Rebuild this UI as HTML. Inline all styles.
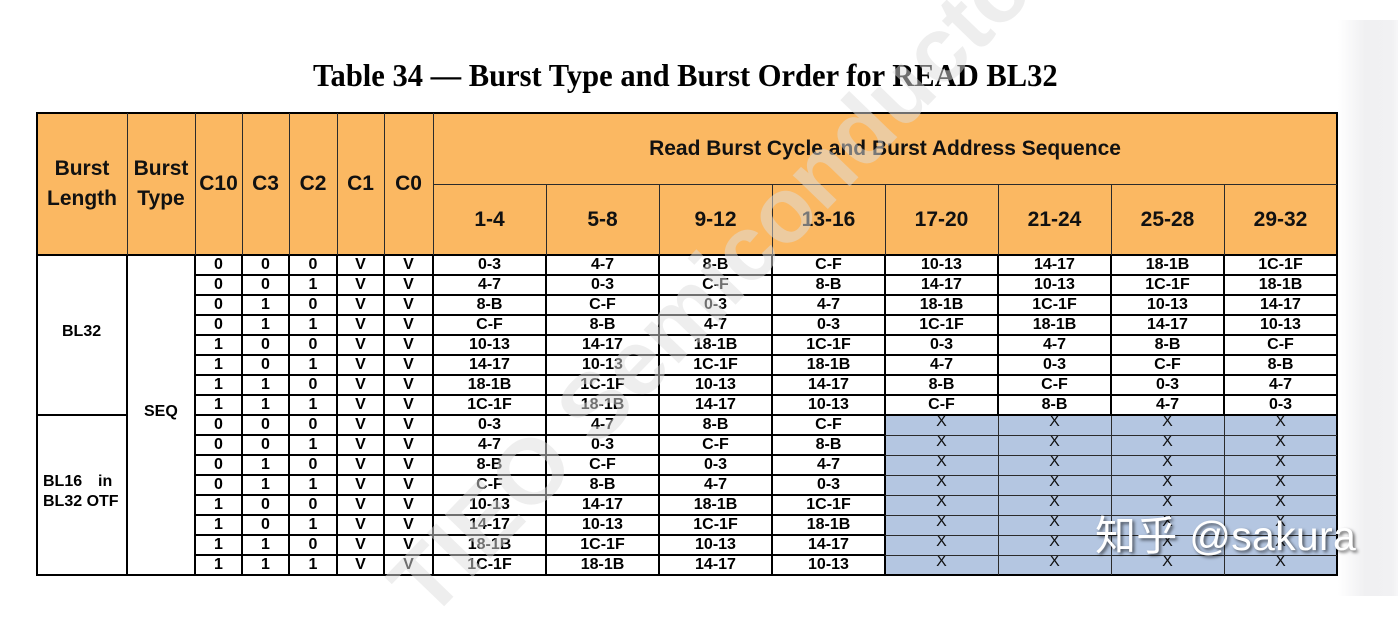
<!DOCTYPE html>
<html>
<head>
<meta charset="utf-8">
<style>
html,body{margin:0;padding:0;}
body{width:1398px;height:596px;overflow:hidden;position:relative;background:#fff;font-family:"Liberation Sans",Arial,sans-serif;}
.bg{position:absolute;}
.l{position:absolute;background:#000;}
.lt{position:absolute;background:#2b2b2b;}
.t{position:absolute;display:flex;align-items:center;justify-content:center;text-align:center;font-weight:bold;color:#111;}
.h{font-size:21px;}
.row{position:absolute;left:195px;height:20px;display:grid;grid-template-columns:47px 47px 48px 47px 49px repeat(8,113px);font-size:16px;font-weight:bold;line-height:20px;text-align:center;color:#000;}
.x{font-weight:normal;position:relative;top:-3px;color:#111;}
.lab{position:absolute;font-size:16px;font-weight:bold;line-height:20px;color:#000;white-space:pre;}
</style>
</head>
<body>
<!-- right gray strip -->
<div class="bg" style="left:1338px;top:20px;width:60px;height:576px;background:linear-gradient(to right,rgba(241,241,243,0) 0,#f0f0f2 45%,#f1f1f3 90%,#f7f7f8 100%);"></div>

<!-- title -->
<div style="position:absolute;left:313px;top:59px;font-family:'Liberation Serif','Times New Roman',serif;font-weight:bold;font-size:32px;line-height:32px;color:#000;white-space:nowrap;transform:scaleX(0.954);transform-origin:0 50%;">Table 34 — Burst Type and Burst Order for READ BL32</div>

<!-- backgrounds -->
<div class="bg" style="left:37px;top:113px;width:1300px;height:142px;background:#fbb862;"></div>
<div class="bg" style="left:885px;top:415px;width:452px;height:160px;background:#b4c6e1;"></div>

<!-- header text -->
<div class="t h" style="left:37px;top:113px;width:90px;height:142px;line-height:30px;">Burst<br>Length</div>
<div class="t h" style="left:127px;top:113px;width:68px;height:142px;line-height:30px;">Burst<br>Type</div>
<div class="t h" style="left:195px;top:113px;width:47px;height:142px;">C10</div>
<div class="t h" style="left:242px;top:113px;width:47px;height:142px;">C3</div>
<div class="t h" style="left:289px;top:113px;width:48px;height:142px;">C2</div>
<div class="t h" style="left:337px;top:113px;width:47px;height:142px;">C1</div>
<div class="t h" style="left:384px;top:113px;width:49px;height:142px;">C0</div>
<div class="t h" style="left:433px;top:113px;width:904px;height:71px;">Read Burst Cycle and Burst Address Sequence</div>
<div class="t h" style="left:433px;top:184px;width:113px;height:71px;">1-4</div>
<div class="t h" style="left:546px;top:184px;width:113px;height:71px;">5-8</div>
<div class="t h" style="left:659px;top:184px;width:113px;height:71px;">9-12</div>
<div class="t h" style="left:772px;top:184px;width:113px;height:71px;">13-16</div>
<div class="t h" style="left:885px;top:184px;width:113px;height:71px;">17-20</div>
<div class="t h" style="left:998px;top:184px;width:113px;height:71px;">21-24</div>
<div class="t h" style="left:1111px;top:184px;width:113px;height:71px;">25-28</div>
<div class="t h" style="left:1224px;top:184px;width:113px;height:71px;">29-32</div>

<!-- left labels -->
<div class="lab" style="left:62px;top:322px;">BL32</div>
<div class="lab" style="left:144px;top:402px;">SEQ</div>
<div class="lab" style="left:43px;top:472px;">BL16</div>
<div class="lab" style="left:98px;top:472px;">in</div>
<div class="lab" style="left:43px;top:492px;">BL32 OTF</div>

<!-- data rows -->
<div class="row" style="top:255px;"><span>0</span><span>0</span><span>0</span><span>V</span><span>V</span><span>0-3</span><span>4-7</span><span>8-B</span><span>C-F</span><span>10-13</span><span>14-17</span><span>18-1B</span><span>1C-1F</span></div>
<div class="row" style="top:275px;"><span>0</span><span>0</span><span>1</span><span>V</span><span>V</span><span>4-7</span><span>0-3</span><span>C-F</span><span>8-B</span><span>14-17</span><span>10-13</span><span>1C-1F</span><span>18-1B</span></div>
<div class="row" style="top:295px;"><span>0</span><span>1</span><span>0</span><span>V</span><span>V</span><span>8-B</span><span>C-F</span><span>0-3</span><span>4-7</span><span>18-1B</span><span>1C-1F</span><span>10-13</span><span>14-17</span></div>
<div class="row" style="top:315px;"><span>0</span><span>1</span><span>1</span><span>V</span><span>V</span><span>C-F</span><span>8-B</span><span>4-7</span><span>0-3</span><span>1C-1F</span><span>18-1B</span><span>14-17</span><span>10-13</span></div>
<div class="row" style="top:335px;"><span>1</span><span>0</span><span>0</span><span>V</span><span>V</span><span>10-13</span><span>14-17</span><span>18-1B</span><span>1C-1F</span><span>0-3</span><span>4-7</span><span>8-B</span><span>C-F</span></div>
<div class="row" style="top:355px;"><span>1</span><span>0</span><span>1</span><span>V</span><span>V</span><span>14-17</span><span>10-13</span><span>1C-1F</span><span>18-1B</span><span>4-7</span><span>0-3</span><span>C-F</span><span>8-B</span></div>
<div class="row" style="top:375px;"><span>1</span><span>1</span><span>0</span><span>V</span><span>V</span><span>18-1B</span><span>1C-1F</span><span>10-13</span><span>14-17</span><span>8-B</span><span>C-F</span><span>0-3</span><span>4-7</span></div>
<div class="row" style="top:395px;"><span>1</span><span>1</span><span>1</span><span>V</span><span>V</span><span>1C-1F</span><span>18-1B</span><span>14-17</span><span>10-13</span><span>C-F</span><span>8-B</span><span>4-7</span><span>0-3</span></div>
<div class="row" style="top:415px;"><span>0</span><span>0</span><span>0</span><span>V</span><span>V</span><span>0-3</span><span>4-7</span><span>8-B</span><span>C-F</span><span class="x">X</span><span class="x">X</span><span class="x">X</span><span class="x">X</span></div>
<div class="row" style="top:435px;"><span>0</span><span>0</span><span>1</span><span>V</span><span>V</span><span>4-7</span><span>0-3</span><span>C-F</span><span>8-B</span><span class="x">X</span><span class="x">X</span><span class="x">X</span><span class="x">X</span></div>
<div class="row" style="top:455px;"><span>0</span><span>1</span><span>0</span><span>V</span><span>V</span><span>8-B</span><span>C-F</span><span>0-3</span><span>4-7</span><span class="x">X</span><span class="x">X</span><span class="x">X</span><span class="x">X</span></div>
<div class="row" style="top:475px;"><span>0</span><span>1</span><span>1</span><span>V</span><span>V</span><span>C-F</span><span>8-B</span><span>4-7</span><span>0-3</span><span class="x">X</span><span class="x">X</span><span class="x">X</span><span class="x">X</span></div>
<div class="row" style="top:495px;"><span>1</span><span>0</span><span>0</span><span>V</span><span>V</span><span>10-13</span><span>14-17</span><span>18-1B</span><span>1C-1F</span><span class="x">X</span><span class="x">X</span><span class="x">X</span><span class="x">X</span></div>
<div class="row" style="top:515px;"><span>1</span><span>0</span><span>1</span><span>V</span><span>V</span><span>14-17</span><span>10-13</span><span>1C-1F</span><span>18-1B</span><span class="x">X</span><span class="x">X</span><span class="x">X</span><span class="x">X</span></div>
<div class="row" style="top:535px;"><span>1</span><span>1</span><span>0</span><span>V</span><span>V</span><span>18-1B</span><span>1C-1F</span><span>10-13</span><span>14-17</span><span class="x">X</span><span class="x">X</span><span class="x">X</span><span class="x">X</span></div>
<div class="row" style="top:555px;"><span>1</span><span>1</span><span>1</span><span>V</span><span>V</span><span>1C-1F</span><span>18-1B</span><span>14-17</span><span>10-13</span><span class="x">X</span><span class="x">X</span><span class="x">X</span><span class="x">X</span></div>

<!-- outer border -->
<div class="l" style="left:36px;top:112px;width:1302px;height:2px;"></div>
<div class="l" style="left:36px;top:254px;width:1302px;height:2px;"></div>
<div class="l" style="left:36px;top:574px;width:1302px;height:2px;"></div>
<div class="l" style="left:36px;top:112px;width:2px;height:464px;"></div>
<div class="l" style="left:1336px;top:112px;width:2px;height:464px;"></div>

<!-- header inner lines -->
<div class="lt" style="left:433px;top:184px;width:904px;height:1px;"></div>
<div class="lt" style="left:127px;top:113px;width:1px;height:142px;"></div>
<div class="lt" style="left:195px;top:113px;width:1px;height:142px;"></div>
<div class="lt" style="left:242px;top:113px;width:1px;height:142px;"></div>
<div class="lt" style="left:289px;top:113px;width:1px;height:142px;"></div>
<div class="lt" style="left:337px;top:113px;width:1px;height:142px;"></div>
<div class="lt" style="left:384px;top:113px;width:1px;height:142px;"></div>
<div class="lt" style="left:433px;top:113px;width:1px;height:142px;"></div>
<div class="lt" style="left:546px;top:184px;width:1px;height:71px;"></div>
<div class="lt" style="left:659px;top:184px;width:1px;height:71px;"></div>
<div class="lt" style="left:772px;top:184px;width:1px;height:71px;"></div>
<div class="lt" style="left:885px;top:184px;width:1px;height:71px;"></div>
<div class="lt" style="left:998px;top:184px;width:1px;height:71px;"></div>
<div class="lt" style="left:1111px;top:184px;width:1px;height:71px;"></div>
<div class="lt" style="left:1224px;top:184px;width:1px;height:71px;"></div>

<!-- data vertical lines -->
<div class="l" style="left:126px;top:255px;width:2px;height:320px;"></div>
<div class="l" style="left:194px;top:255px;width:2px;height:320px;"></div>
<div class="l" style="left:241px;top:255px;width:2px;height:320px;"></div>
<div class="l" style="left:288px;top:255px;width:2px;height:320px;"></div>
<div class="l" style="left:336px;top:255px;width:2px;height:320px;"></div>
<div class="l" style="left:383px;top:255px;width:2px;height:320px;"></div>
<div class="l" style="left:432px;top:255px;width:2px;height:320px;"></div>
<div class="l" style="left:545px;top:255px;width:2px;height:320px;"></div>
<div class="l" style="left:658px;top:255px;width:2px;height:320px;"></div>
<div class="l" style="left:771px;top:255px;width:2px;height:320px;"></div>
<div class="l" style="left:884px;top:255px;width:2px;height:320px;"></div>
<div class="l" style="left:997px;top:255px;width:2px;height:160px;"></div>
<div class="l" style="left:1110px;top:255px;width:2px;height:160px;"></div>
<div class="l" style="left:1223px;top:255px;width:2px;height:160px;"></div>
<div class="lt" style="left:998px;top:415px;width:1px;height:160px;"></div>
<div class="lt" style="left:1111px;top:415px;width:1px;height:160px;"></div>
<div class="lt" style="left:1224px;top:415px;width:1px;height:160px;"></div>

<!-- data horizontal lines -->
<div class="l" style="left:195px;top:274px;width:1142px;height:2px;"></div>
<div class="l" style="left:195px;top:294px;width:1142px;height:2px;"></div>
<div class="l" style="left:195px;top:314px;width:1142px;height:2px;"></div>
<div class="l" style="left:195px;top:334px;width:1142px;height:2px;"></div>
<div class="l" style="left:195px;top:354px;width:1142px;height:2px;"></div>
<div class="l" style="left:195px;top:374px;width:1142px;height:2px;"></div>
<div class="l" style="left:195px;top:394px;width:1142px;height:2px;"></div>
<div class="l" style="left:37px;top:414px;width:90px;height:2px;"></div>
<div class="l" style="left:195px;top:414px;width:1142px;height:2px;"></div>
<div class="l" style="left:195px;top:434px;width:690px;height:2px;"></div>
<div class="l" style="left:195px;top:454px;width:690px;height:2px;"></div>
<div class="l" style="left:195px;top:474px;width:690px;height:2px;"></div>
<div class="l" style="left:195px;top:494px;width:690px;height:2px;"></div>
<div class="l" style="left:195px;top:514px;width:690px;height:2px;"></div>
<div class="l" style="left:195px;top:534px;width:690px;height:2px;"></div>
<div class="l" style="left:195px;top:554px;width:690px;height:2px;"></div>
<div class="lt" style="left:885px;top:435px;width:452px;height:1px;"></div>
<div class="lt" style="left:885px;top:455px;width:452px;height:1px;"></div>
<div class="lt" style="left:885px;top:475px;width:452px;height:1px;"></div>
<div class="lt" style="left:885px;top:495px;width:452px;height:1px;"></div>
<div class="lt" style="left:885px;top:515px;width:452px;height:1px;"></div>
<div class="lt" style="left:885px;top:535px;width:452px;height:1px;"></div>
<div class="lt" style="left:885px;top:555px;width:452px;height:1px;"></div>

<!-- diagonal watermark -->
<div style="position:absolute;left:268px;top:227px;font-family:'Liberation Sans',Arial,sans-serif;font-weight:bold;font-size:92px;line-height:92px;white-space:nowrap;color:rgba(222,222,222,0.5);transform:rotate(-46deg);transform-origin:50% 50%;">TIEO Semiconductor</div>

<!-- zhihu watermark -->
<div style="position:absolute;left:1095px;top:512px;font-family:'Liberation Sans','Noto Sans CJK SC',sans-serif;font-size:41px;line-height:48px;letter-spacing:0.3px;color:#fff;white-space:nowrap;text-shadow:2px 2px 3px rgba(0,0,0,0.6);">知乎 @sakura</div>
</body>
</html>
